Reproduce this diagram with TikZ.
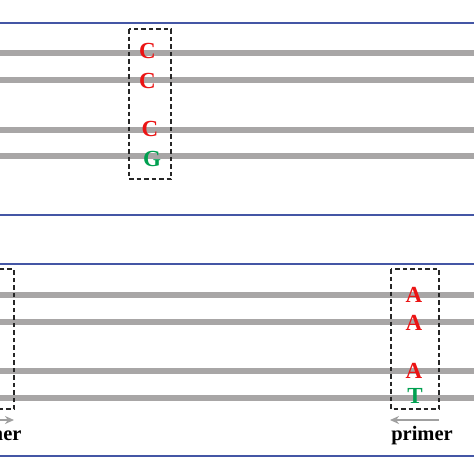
\documentclass[tikz,border=0pt]{standalone}
\usepackage{fontspec}
\setmainfont{Liberation Serif}
\usetikzlibrary{arrows.meta}
\definecolor{panelblue}{RGB}{68,86,165}
\definecolor{strandgray}{RGB}{168,166,166}
\definecolor{snpred}{RGB}{235,20,20}
\definecolor{snpgreen}{RGB}{0,160,80}
\definecolor{arrowgray}{RGB}{160,160,160}
\tikzset{
  panelline/.style={draw=panelblue, line width=2.3pt},
  strand/.style={draw=strandgray, line width=5.5pt},
  snpbox/.style={draw=black!85, line width=1.3pt, dash pattern=on 4.5pt off 3pt},
  base/.style={font=\fontsize{23}{23}\selectfont\bfseries, inner sep=0pt},
  mut/.style={base, text=snpred},
  wt/.style={base, text=snpgreen},
  primerarrow/.style={draw=arrowgray, line width=2.3pt, -{Stealth[length=9pt,width=8pt]}},
  primerlabel/.style={font=\fontsize{20.5}{20.5}\selectfont\bfseries, inner sep=0pt}
}
\begin{document}
\begin{tikzpicture}[x=1pt,y=-1pt]
\useasboundingbox (0,0) rectangle (474,474);
\clip (0,0) rectangle (474,474);
\fill[white] (0,0) rectangle (474,474);
% panel borders
\draw[panelline] (0,23) -- (474,23);
\draw[panelline] (0,215) -- (474,215);
\draw[panelline] (0,264) -- (474,264);
\draw[panelline] (0,456) -- (474,456);
% strands, top panel
\foreach \y in {53,80,130,156} \draw[strand] (0,\y) -- (474,\y);
% strands, bottom panel
\foreach \y in {295,322,371,398} \draw[strand] (0,\y) -- (474,\y);
% dashed boxes
\draw[snpbox] (129,29) rectangle (171,179);
\draw[snpbox] (-34,269) rectangle (14,409);
\draw[snpbox] (391,269) rectangle (439,409);
% top letters
\node[mut] (c1) at (147.5,51) {C};
\node[mut] (c2) at (147.5,80.5) {C};
\node[mut] (c3) at (150,129) {C};
\node[wt]  (g1) at (152,159) {G};
% bottom letters
\node[mut] (a1) at (414,295) {A};
\node[mut] (a2) at (414,323) {A};
\node[mut] (a3) at (414,371) {A};
\node[wt]  (t1) at (415,396) {T};
% primers
\coordinate (lpa) at (-34,420);
\coordinate (lpb) at (14,420);
\draw[primerarrow] (lpa) -- (lpb);
\node[primerlabel, anchor=base east] (lprimer) at (21.7,440.7) {primer};
\coordinate (rpa) at (439,420);
\coordinate (rpb) at (390,420);
\draw[primerarrow] (rpa) -- (rpb);
\node[primerlabel, anchor=base] (rprimer) at (422,440.7) {primer};
\end{tikzpicture}
\end{document}
